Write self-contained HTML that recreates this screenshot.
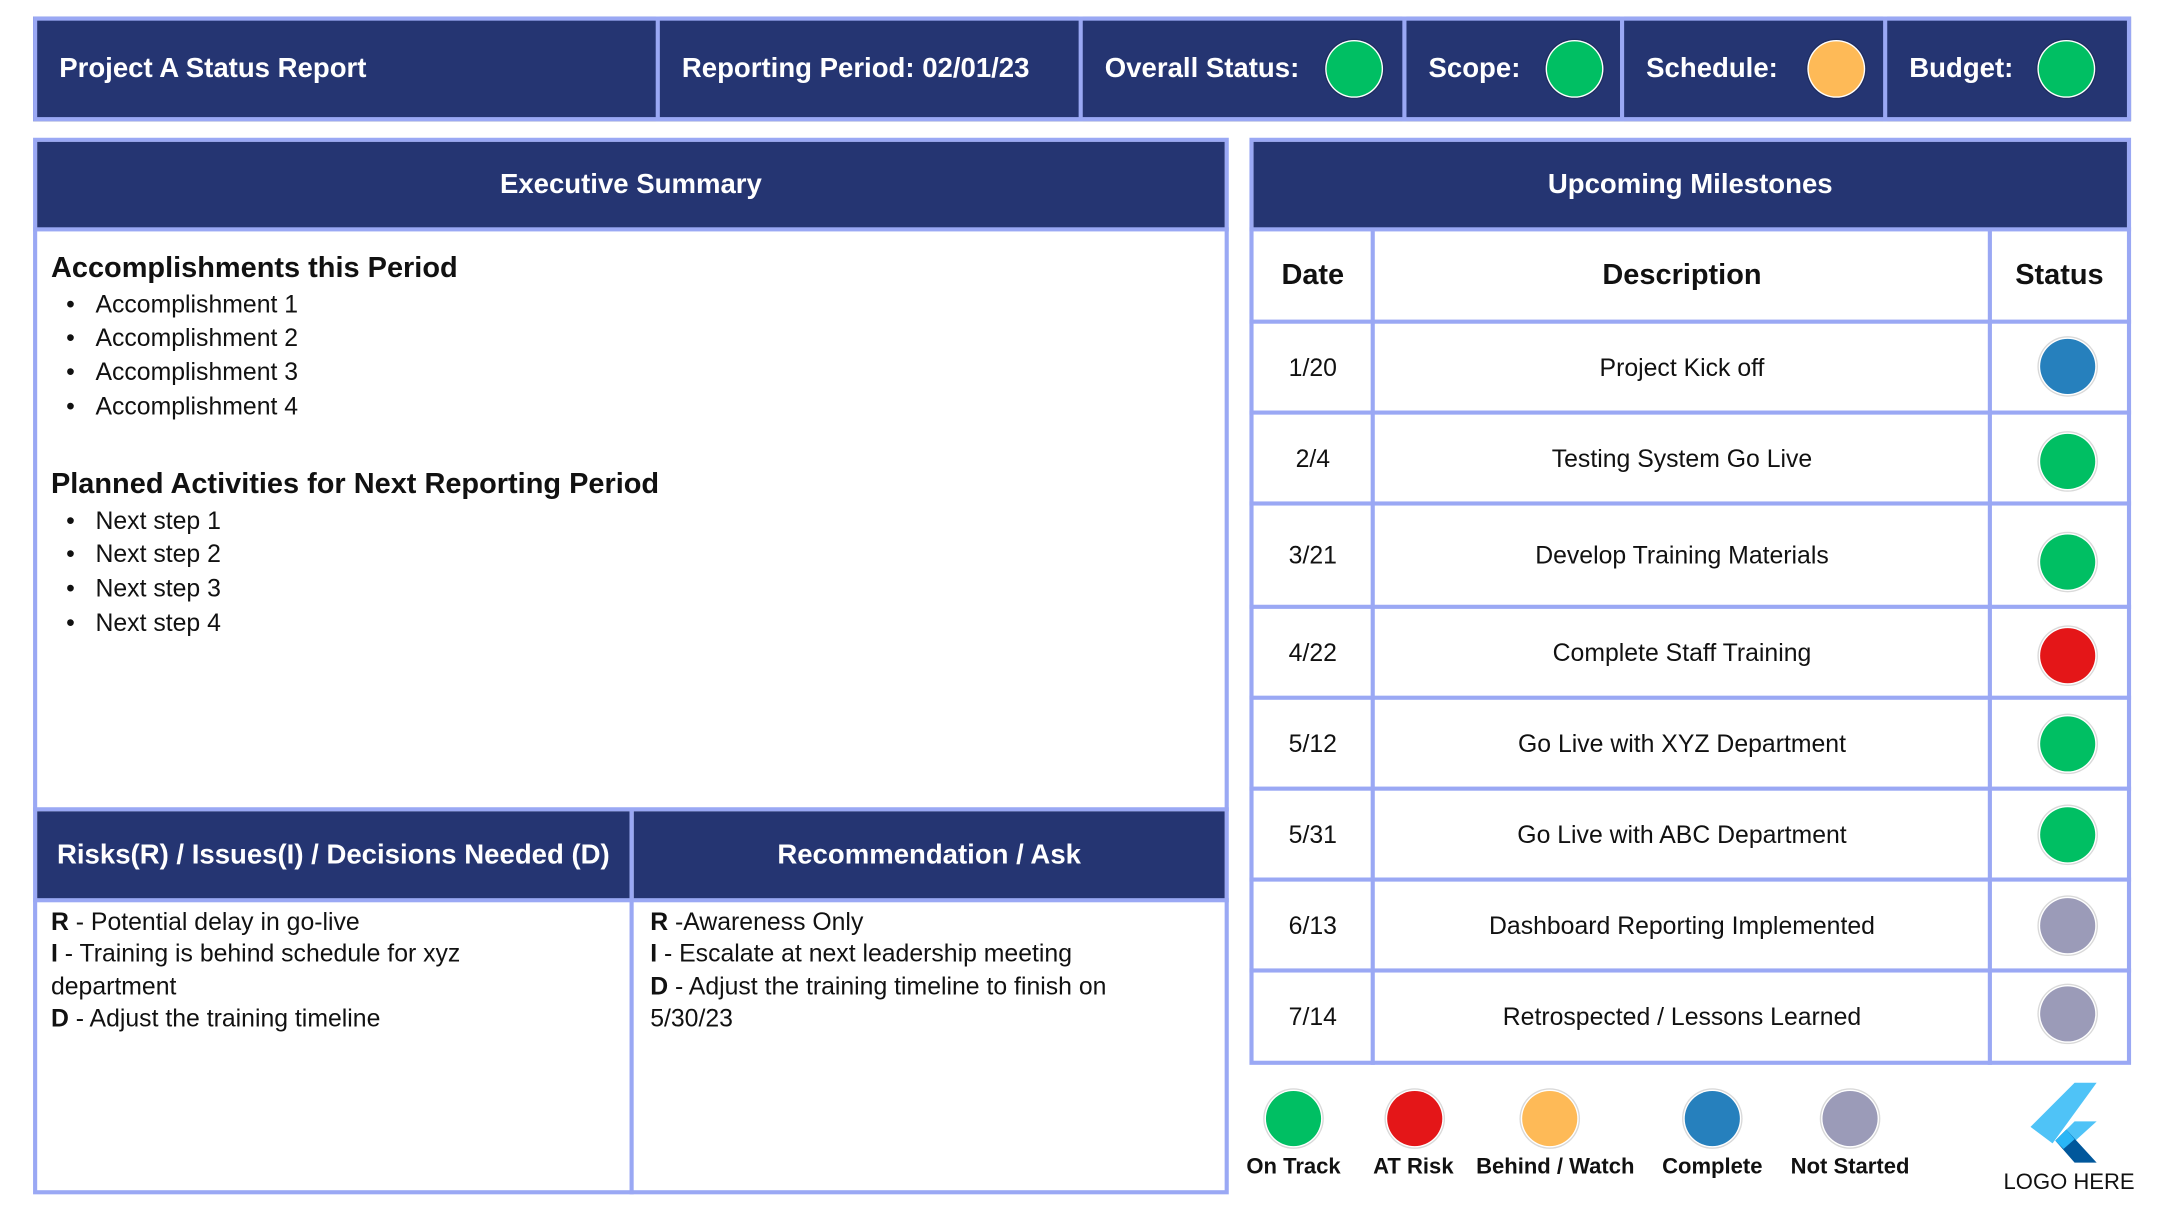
<!DOCTYPE html>
<html><head><meta charset="utf-8"><style>
html,body{margin:0;padding:0;background:#fff;overflow:hidden}
body{width:2160px;height:1215px}
#w{position:absolute;left:0;top:0;width:1568px;height:882px;transform:scale(1.37755);transform-origin:0 0;font-family:"Liberation Sans",sans-serif;color:#111}
.a{position:absolute;box-sizing:border-box}
.nv{background:#253572;color:#fff;font-family:"Liberation Sans Narrow","Liberation Sans",sans-serif;font-weight:bold;font-size:20px;display:flex;align-items:center}
.bd{border:3px solid #9aa8f4}
.c{position:absolute;border-radius:50%;width:40px;height:40px;box-shadow:0 0 0 1px #fff,0 0 0 2px rgba(0,0,0,.15)}
.g{background:#00bf63}.o{background:#feba57}.r{background:#e41618}.b{background:#2680bd}.gr{background:#9b9bb8}
.t{position:absolute;font-size:18px;line-height:24px;white-space:nowrap}
.h{position:absolute;font-size:21px;font-weight:bold;white-space:nowrap}
.hl{position:absolute;left:0;right:0;height:3px;background:#9aa8f4}
.vl{position:absolute;top:0;bottom:0;width:3px;background:#9aa8f4}
.cell{position:absolute;font-size:18px;text-align:center;display:flex;align-items:center;justify-content:center}
.lg{position:absolute;font-family:"Liberation Sans Narrow","Liberation Sans",sans-serif;font-weight:bold;font-size:16px;white-space:nowrap;transform:translateX(-50%)}
</style></head><body><div id="w">
<!-- header -->
<div class="a bd" style="left:24px;top:12px;width:1523px;height:76px;background:#253572"></div>
<div class="a" style="left:476px;top:12px;width:3px;height:76px;background:#9aa8f4"></div>
<div class="a" style="left:783px;top:12px;width:3px;height:76px;background:#9aa8f4"></div>
<div class="a" style="left:1018px;top:12px;width:3px;height:76px;background:#9aa8f4"></div>
<div class="a" style="left:1176px;top:12px;width:3px;height:76px;background:#9aa8f4"></div>
<div class="a" style="left:1367px;top:12px;width:3px;height:76px;background:#9aa8f4"></div>
<div class="a nv" style="left:43px;top:32px;height:36px;background:none">Project A Status Report</div>
<div class="a nv" style="left:495px;top:32px;height:36px;background:none">Reporting Period: 02/01/23</div>
<div class="a nv" style="left:802px;top:32px;height:36px;background:none">Overall Status:</div>
<div class="a nv" style="left:1037px;top:32px;height:36px;background:none">Scope:</div>
<div class="a nv" style="left:1195px;top:32px;height:36px;background:none">Schedule:</div>
<div class="a nv" style="left:1386px;top:32px;height:36px;background:none">Budget:</div>
<div class="c g" style="left:963px;top:30px"></div>
<div class="c g" style="left:1123px;top:30px"></div>
<div class="c o" style="left:1313px;top:30px"></div>
<div class="c g" style="left:1480px;top:30px"></div>

<!-- executive summary -->
<div class="a bd" style="left:24px;top:100px;width:868px;height:767px"></div>
<div class="a nv" style="left:27px;top:103px;width:862px;height:63px;justify-content:center">Executive Summary</div>
<div class="a" style="left:24px;top:165px;width:868px;height:3px;background:#9aa8f4"></div>
<div class="h" style="left:37px;top:183px">Accomplishments this Period</div>
<div class="t" style="left:48px;top:209px">•&nbsp;&nbsp;&nbsp;Accomplishment 1</div>
<div class="t" style="left:48px;top:233px">•&nbsp;&nbsp;&nbsp;Accomplishment 2</div>
<div class="t" style="left:48px;top:258px">•&nbsp;&nbsp;&nbsp;Accomplishment 3</div>
<div class="t" style="left:48px;top:283px">•&nbsp;&nbsp;&nbsp;Accomplishment 4</div>
<div class="h" style="left:37px;top:340px">Planned Activities for Next Reporting Period</div>
<div class="t" style="left:48px;top:366px">•&nbsp;&nbsp;&nbsp;Next step 1</div>
<div class="t" style="left:48px;top:390px">•&nbsp;&nbsp;&nbsp;Next step 2</div>
<div class="t" style="left:48px;top:415px">•&nbsp;&nbsp;&nbsp;Next step 3</div>
<div class="t" style="left:48px;top:440px">•&nbsp;&nbsp;&nbsp;Next step 4</div>

<div class="a" style="left:24px;top:586px;width:868px;height:3px;background:#9aa8f4"></div>
<div class="a nv" style="left:27px;top:589px;width:430px;height:64px;justify-content:center">Risks(R) / Issues(I) / Decisions Needed (D)</div>
<div class="a nv" style="left:460px;top:589px;width:429px;height:64px;justify-content:center">Recommendation / Ask</div>
<div class="a" style="left:457px;top:588px;width:3px;height:279px;background:#9aa8f4"></div>
<div class="a" style="left:24px;top:652px;width:868px;height:3px;background:#9aa8f4"></div>
<div class="t" style="left:37px;top:657px"><b>R</b> - Potential delay in go-live</div>
<div class="t" style="left:37px;top:680px"><b>I</b> - Training is behind schedule for xyz</div>
<div class="t" style="left:37px;top:704px">department</div>
<div class="t" style="left:37px;top:727px"><b>D</b> - Adjust the training timeline</div>
<div class="t" style="left:472px;top:657px"><b>R</b> -Awareness Only</div>
<div class="t" style="left:472px;top:680px"><b>I</b> - Escalate at next leadership meeting</div>
<div class="t" style="left:472px;top:704px"><b>D</b> - Adjust the training timeline to finish on</div>
<div class="t" style="left:472px;top:727px">5/30/23</div>

<!-- milestones -->
<div class="a bd" style="left:907px;top:100px;width:640px;height:673px"></div>
<div class="a nv" style="left:910px;top:103px;width:634px;height:63px;justify-content:center">Upcoming Milestones</div>
<div class="a" style="left:907px;top:100px;width:640px;height:673px">
<div class="hl" style="top:65px"></div>
<div class="hl" style="top:132px"></div>
<div class="hl" style="top:198px"></div>
<div class="hl" style="top:264px"></div>
<div class="hl" style="top:339px"></div>
<div class="hl" style="top:405px"></div>
<div class="hl" style="top:471px"></div>
<div class="hl" style="top:537px"></div>
<div class="hl" style="top:603px"></div>
<div class="vl" style="left:88px;top:66px"></div>
<div class="vl" style="left:536px;top:66px"></div>
</div>
<div class="cell" style="left:910px;top:168px;width:86px;height:64px;font-family:'Liberation Sans Narrow','Liberation Sans',sans-serif;font-weight:bold;font-size:21px">Date</div>
<div class="cell" style="left:998px;top:168px;width:446px;height:64px;font-family:'Liberation Sans Narrow','Liberation Sans',sans-serif;font-weight:bold;font-size:21px">Description</div>
<div class="cell" style="left:1446px;top:168px;width:98px;height:64px;font-family:'Liberation Sans Narrow','Liberation Sans',sans-serif;font-weight:bold;font-size:21px">Status</div>

<div class="cell" style="left:910px;top:235px;width:86px;height:64px">1/20</div>
<div class="cell" style="left:998px;top:235px;width:446px;height:64px">Project Kick off</div>
<div class="c b" style="left:1481px;top:246px"></div>
<div class="cell" style="left:910px;top:301px;width:86px;height:64px">2/4</div>
<div class="cell" style="left:998px;top:301px;width:446px;height:64px">Testing System Go Live</div>
<div class="c g" style="left:1481px;top:315px"></div>
<div class="cell" style="left:910px;top:367px;width:86px;height:73px">3/21</div>
<div class="cell" style="left:998px;top:367px;width:446px;height:73px">Develop Training Materials</div>
<div class="c g" style="left:1481px;top:388px"></div>
<div class="cell" style="left:910px;top:442px;width:86px;height:64px">4/22</div>
<div class="cell" style="left:998px;top:442px;width:446px;height:64px">Complete Staff Training</div>
<div class="c r" style="left:1481px;top:456px"></div>
<div class="cell" style="left:910px;top:508px;width:86px;height:64px">5/12</div>
<div class="cell" style="left:998px;top:508px;width:446px;height:64px">Go Live with XYZ Department</div>
<div class="c g" style="left:1481px;top:520px"></div>
<div class="cell" style="left:910px;top:574px;width:86px;height:64px">5/31</div>
<div class="cell" style="left:998px;top:574px;width:446px;height:64px">Go Live with ABC Department</div>
<div class="c g" style="left:1481px;top:586px"></div>
<div class="cell" style="left:910px;top:640px;width:86px;height:64px">6/13</div>
<div class="cell" style="left:998px;top:640px;width:446px;height:64px">Dashboard Reporting Implemented</div>
<div class="c gr" style="left:1481px;top:652px"></div>
<div class="cell" style="left:910px;top:706px;width:86px;height:64px">7/14</div>
<div class="cell" style="left:998px;top:706px;width:446px;height:64px">Retrospected / Lessons Learned</div>
<div class="c gr" style="left:1481px;top:716px"></div>

<!-- legend -->
<div class="c g" style="left:919px;top:792px"></div>
<div class="c r" style="left:1007px;top:792px"></div>
<div class="c o" style="left:1105px;top:792px"></div>
<div class="c b" style="left:1223px;top:792px"></div>
<div class="c gr" style="left:1323px;top:792px"></div>
<div class="lg" style="left:939px;top:839px">On Track</div>
<div class="lg" style="left:1026px;top:839px">AT Risk</div>
<div class="lg" style="left:1129px;top:839px">Behind / Watch</div>
<div class="lg" style="left:1243px;top:839px">Complete</div>
<div class="lg" style="left:1343px;top:839px">Not Started</div>
<svg class="a" style="left:1470px;top:784px" width="56" height="64" viewBox="0 0 56 64">
<polygon points="36,2 52,2 20,46 4,34" fill="#4fc3f7"/>
<polygon points="36,30 52,30 30,50 22,44" fill="#4fc3f7"/>
<polygon points="22,44 30,36 52,60 36,60" fill="#01579b"/>
<polygon points="22,44 30,36 36,43 28,50" fill="#29b6f6"/>
</svg>
<div class="lg" style="left:1502px;top:850px;font-weight:normal;font-family:'Liberation Sans Narrow','Liberation Sans',sans-serif;font-size:16px">LOGO HERE</div>
</div></body></html>
